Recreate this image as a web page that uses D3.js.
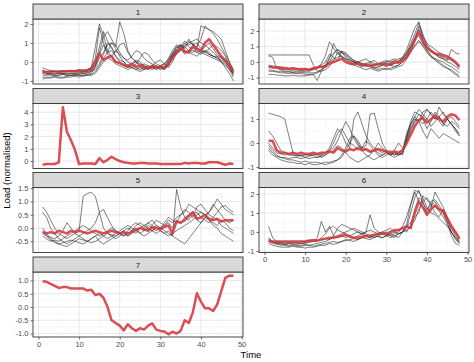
<!DOCTYPE html>
<html><head><meta charset="utf-8">
<script src="https://cdn.jsdelivr.net/npm/d3@7"></script>
<style>body{margin:0;background:#fff}svg{display:block;font-family:"Liberation Sans",Arial,sans-serif}</style>
</head><body><svg id="c" width="474" height="362"></svg>
<script>
const time = d3.range(1, 49);
const panelIds = ["1","2","3","4","5","6","7"];

// Cluster 1
const c1Red = [-0.5,-0.55,-0.5,-0.5,-0.5,-0.5,-0.5,-0.48,-0.5,-0.45,-0.45,-0.45,-0.4,0.0,0.45,0.1,0.25,0.3,0.0,-0.05,-0.15,-0.2,-0.1,-0.25,-0.2,-0.3,-0.35,-0.2,-0.3,-0.25,-0.3,-0.1,0.2,0.5,0.75,0.55,0.5,0.8,0.7,0.6,1.0,1.2,0.9,0.6,0.3,0.1,-0.2,-0.5];
const c1Members = [
[-0.4,-0.6,-0.6,-0.6,-0.6,-0.6,-0.6,-0.6,-0.6,-0.6,-0.55,-0.5,-0.3,0.8,2.0,1.4,0.6,0.3,0.0,-0.1,-0.2,-0.3,-0.2,-0.3,-0.4,-0.3,-0.4,-0.3,-0.4,-0.3,-0.2,0.0,0.4,0.6,0.7,0.5,0.6,0.8,0.5,0.6,0.8,1.0,0.7,0.4,0.2,0.0,-0.3,-0.6],
[-0.8,-0.8,-0.8,-0.75,-0.8,-0.8,-0.75,-0.7,-0.7,-0.7,-0.7,-0.65,-0.6,-0.2,0.5,1.3,1.6,1.2,0.8,2.1,1.5,0.6,0.2,0.0,-0.2,-0.3,-0.2,-0.3,-0.3,-0.2,-0.3,0.1,0.5,0.8,0.9,0.7,1.1,0.9,0.8,1.2,1.9,1.7,1.5,1.2,0.8,0.4,0.0,-0.4],
[-0.6,-0.5,-0.5,-0.5,-0.55,-0.5,-0.5,-0.5,-0.45,-0.5,-0.5,-0.4,-0.3,0.2,1.8,1.0,0.5,1.0,0.9,0.5,0.2,0.0,-0.1,0.0,-0.2,-0.1,-0.2,-0.3,-0.2,-0.3,-0.4,-0.2,0.3,0.7,0.9,0.8,0.6,0.9,1.0,0.7,0.5,0.4,0.3,0.2,0.1,0.0,-0.3,-0.7],
[-0.7,-0.7,-0.65,-0.7,-0.7,-0.65,-0.7,-0.7,-0.7,-0.65,-0.6,-0.6,-0.5,-0.3,0.2,0.5,1.0,0.8,0.3,0.1,0.0,-0.2,-0.3,-0.1,0.2,0.5,0.4,0.1,-0.1,-0.2,-0.1,0.1,0.4,0.8,0.7,1.0,0.8,0.6,0.5,0.4,0.6,0.5,0.3,0.2,0.0,-0.1,-0.4,-0.8],
[-0.3,-0.4,-0.45,-0.5,-0.5,-0.45,-0.5,-0.5,-0.5,-0.45,-0.5,-0.5,-0.4,-0.2,0.4,0.9,0.4,0.3,0.6,0.4,0.2,0.1,0.3,0.6,0.5,0.2,0.0,-0.1,-0.2,-0.3,-0.3,-0.1,0.2,0.4,0.6,0.9,1.2,0.9,0.7,0.6,0.5,0.7,0.9,0.8,0.6,0.3,-0.2,-0.6],
[-0.5,-0.6,-0.6,-0.65,-0.6,-0.6,-0.65,-0.6,-0.6,-0.55,-0.6,-0.55,-0.5,-0.4,-0.1,0.4,0.9,1.0,0.7,0.3,0.0,-0.2,-0.3,-0.4,-0.3,-0.4,-0.3,-0.2,0.0,0.1,-0.1,-0.3,0.0,0.5,0.7,0.4,0.6,0.5,0.7,1.9,1.8,1.7,1.6,1.4,1.2,0.6,0.0,-0.5],
[-0.9,-0.85,-0.85,-0.8,-0.85,-0.85,-0.8,-0.8,-0.75,-0.8,-0.75,-0.7,-0.7,-0.6,-0.3,0.0,0.2,0.1,-0.1,-0.2,-0.3,-0.4,-0.3,-0.4,-0.5,-0.4,-0.3,-0.4,-0.3,-0.4,-0.3,-0.2,0.3,0.6,0.9,0.6,0.5,0.4,0.3,0.5,0.4,0.3,0.2,0.1,0.0,-0.3,-0.6,-1.0],
[-0.45,-0.5,-0.5,-0.5,-0.5,-0.5,-0.45,-0.45,-0.45,-0.4,-0.45,-0.4,-0.3,0.0,0.8,1.6,1.1,0.7,0.5,0.9,1.0,0.5,0.2,0.0,-0.1,-0.2,-0.3,-0.2,-0.3,-0.2,-0.1,0.2,0.6,0.9,0.8,1.1,0.9,1.0,0.6,0.5,0.6,0.4,0.3,0.3,0.0,-0.2,-0.4,-0.6],
[-0.6,-0.65,-0.7,-0.7,-0.7,-0.65,-0.7,-0.7,-0.65,-0.7,-0.7,-0.7,-0.65,-0.5,-0.2,0.2,0.5,0.6,0.3,0.0,-0.2,-0.3,-0.1,0.1,0.0,-0.2,-0.3,-0.2,-0.3,-0.3,-0.4,-0.1,0.3,0.5,0.6,0.8,1.0,1.1,1.2,1.0,0.9,0.7,0.5,0.3,0.2,0.1,-0.2,-0.5]
];

// Cluster 2
const c2Red = [-0.3,-0.35,-0.35,-0.4,-0.4,-0.45,-0.4,-0.45,-0.5,-0.45,-0.5,-0.4,-0.35,-0.3,-0.3,-0.1,0.0,0.1,0.2,0.0,-0.1,-0.15,-0.1,-0.2,-0.15,-0.25,-0.2,-0.15,-0.1,-0.2,-0.1,0.0,-0.05,0.1,0.3,0.8,1.4,1.95,1.3,0.9,0.7,0.55,0.5,0.4,0.35,0.2,0.0,-0.3];
const c2Members = [
[0.45,0.45,0.45,0.45,0.45,0.45,0.45,0.45,0.45,0.45,0.45,-0.2,-0.6,-0.5,-0.3,0.0,0.5,0.8,0.6,0.3,0.1,0.0,-0.1,-0.2,-0.1,0.0,0.1,-0.1,-0.2,0.0,0.1,0.2,0.0,0.3,0.8,1.5,2.2,2.6,1.6,1.0,0.7,0.5,0.3,0.2,0.0,-0.1,-0.3,-0.5],
[0.4,0.3,-0.4,-0.5,-0.6,-0.6,-0.65,-0.6,-0.65,-0.6,-0.6,-0.5,-0.4,-0.1,0.4,1.3,0.9,0.5,0.7,0.4,0.2,0.0,-0.1,-0.2,-0.3,-0.2,-0.3,-0.4,-0.2,-0.1,-0.2,-0.3,-0.2,0.0,0.4,1.0,1.6,2.1,1.4,0.8,0.4,0.2,0.1,0.0,-0.2,-0.3,-0.5,-0.7],
[-0.6,-0.6,-0.65,-0.7,-0.7,-0.75,-0.7,-0.75,-0.75,-0.8,-0.8,-0.8,-1.2,-0.6,-0.3,0.2,1.2,0.7,0.3,0.2,0.1,0.0,-0.2,-0.3,-0.2,-0.3,-0.4,-0.3,-0.2,-0.3,-0.2,-0.1,0.0,0.2,0.6,1.2,1.8,2.5,1.8,1.1,0.8,0.5,0.3,0.2,0.1,0.8,0.6,0.5],
[-0.8,-0.8,-0.85,-0.85,-0.9,-0.9,-0.85,-0.9,-0.9,-0.9,-0.85,-0.8,-0.7,-0.5,-0.2,0.3,0.6,0.8,0.6,0.5,0.3,0.1,0.0,-0.1,-0.2,-0.3,-0.4,-0.5,-0.4,-0.5,-0.4,-0.3,-0.2,0.0,0.3,0.7,1.1,1.4,1.0,0.6,0.3,0.2,0.0,-0.2,-0.4,-0.5,-0.7,-0.9],
[-0.3,-0.35,-0.4,-0.45,-0.5,-0.5,-0.55,-0.5,-0.55,-0.5,-0.5,-0.45,-0.3,-0.2,0.0,0.5,0.3,0.1,0.7,0.6,0.3,0.1,0.0,0.1,0.2,0.0,-0.1,-0.2,-0.1,0.0,-0.2,-0.1,0.1,0.2,0.5,0.9,1.4,2.3,1.6,1.2,1.0,0.8,0.6,0.5,0.4,0.2,0.0,-0.2],
[-0.5,-0.55,-0.6,-0.6,-0.65,-0.65,-0.7,-0.7,-0.65,-0.7,-0.7,-0.7,-0.65,-0.6,-0.5,-0.3,0.1,0.6,0.3,0.1,-0.1,-0.2,-0.3,-0.4,-0.5,-0.4,-0.5,-0.6,-0.5,-0.4,-0.5,-0.4,-0.3,-0.2,0.2,0.6,1.0,1.3,1.1,0.7,0.4,0.1,-0.1,-0.3,-0.4,-0.6,-0.8,-1.0],
[-0.2,-0.25,-0.3,-0.3,-0.35,-0.4,-0.4,-0.45,-0.4,-0.45,-0.5,-0.45,-0.4,-0.3,-0.2,0.0,0.2,0.3,0.4,0.2,0.0,-0.1,0.0,-0.1,-0.2,-0.1,-0.2,-0.1,0.0,0.1,0.0,0.1,0.2,0.3,0.6,1.0,1.5,1.7,1.2,0.9,0.7,0.5,0.4,0.3,0.2,0.1,-0.1,-0.4]
];

// Cluster 3 (single member)
const c3Red = [-0.3,-0.25,-0.25,-0.25,-0.1,4.4,2.4,1.7,0.9,-0.25,-0.2,-0.2,-0.2,-0.25,0.25,-0.1,0.1,0.35,0.15,0.0,-0.1,-0.15,-0.2,-0.2,-0.15,-0.15,-0.2,-0.2,-0.2,-0.25,-0.25,-0.25,-0.25,-0.25,-0.25,-0.15,-0.2,-0.15,-0.15,-0.2,-0.2,-0.1,-0.1,-0.1,-0.2,-0.3,-0.2,-0.25];
const c3Members = [];

// Cluster 4
const c4Red = [0.1,0.1,-0.3,-0.4,-0.4,-0.45,-0.4,-0.45,-0.4,-0.45,-0.45,-0.4,-0.45,-0.4,-0.4,-0.35,-0.4,-0.2,-0.3,-0.35,-0.25,-0.3,-0.2,-0.3,-0.25,-0.35,-0.3,-0.25,-0.3,-0.35,-0.4,-0.35,-0.4,-0.3,0.0,0.35,0.7,0.95,1.05,0.85,1.0,1.15,1.0,0.9,1.1,1.2,1.15,0.95];
const c4Members = [
[1.25,1.2,1.15,1.1,1.0,0.3,-0.4,-0.5,-0.5,-0.45,-0.5,-0.5,-0.45,-0.5,-0.4,-0.3,-0.2,0.1,0.5,0.9,0.6,0.2,-0.1,-0.2,-0.3,-0.4,-0.3,-0.4,-0.5,-0.4,-0.5,-0.4,-0.5,-0.4,0.1,0.6,0.9,1.2,1.0,0.6,0.9,1.3,1.1,0.8,1.0,1.1,0.9,0.7],
[0.5,0.3,0.0,-0.3,-0.4,-0.5,-0.5,-0.55,-0.5,-0.6,-0.55,-0.5,-0.6,-0.5,-0.4,-0.2,0.2,0.6,0.4,0.0,-0.2,1.0,1.3,0.8,0.3,0.0,-0.2,-0.3,-0.4,-0.3,-0.4,-0.5,-0.4,-0.5,0.2,0.7,1.0,0.9,1.3,1.4,1.2,1.0,1.5,1.2,1.0,0.8,0.6,0.4],
[-0.1,-0.3,-0.5,-0.6,-0.65,-0.7,-0.7,-0.75,-0.8,-0.75,-0.8,-0.8,-0.8,-0.85,-0.8,-0.8,-0.75,-0.7,-0.6,-0.3,0.0,0.3,0.1,-0.2,-0.1,1.2,1.25,0.6,0.0,-0.3,-0.5,-0.4,-0.5,-0.4,0.3,0.9,1.3,1.2,1.1,1.4,1.2,1.0,1.1,1.3,1.0,0.8,0.6,0.3],
[-0.3,-0.5,-0.6,-0.7,-0.75,-0.8,-0.8,-0.85,-0.85,-0.9,-0.85,-0.9,-0.9,-0.85,-0.9,-0.85,-0.8,-0.7,-0.5,-0.2,0.2,0.3,0.0,-0.3,-0.5,-0.6,-0.7,-0.6,-0.5,-0.4,-0.3,-0.5,-0.4,-0.3,0.4,0.8,1.1,0.9,0.5,0.2,0.6,0.4,0.2,0.4,0.3,0.2,0.1,0.0],
[0.0,-0.2,-0.4,-0.45,-0.5,-0.45,-0.5,-0.5,-0.55,-0.5,-0.5,-0.45,-0.5,-0.6,-0.5,-0.4,-0.3,-0.1,-0.2,-0.4,-0.6,-0.7,-0.8,-0.7,-0.6,-0.5,-0.3,0.0,-0.2,-0.4,-0.5,-0.6,-0.5,-0.4,0.2,0.8,1.1,1.4,1.2,1.0,1.3,1.1,0.9,0.7,1.0,0.8,0.5,0.3],
[-0.2,-0.4,-0.55,-0.6,-0.6,-0.65,-0.6,-0.6,-0.65,-0.6,-0.65,-0.6,-0.6,-0.55,-0.5,-0.3,0.0,0.4,0.6,0.3,0.0,-0.1,-0.3,-0.2,0.1,-0.1,-0.3,-0.5,-0.6,-0.5,-0.4,-0.3,0.0,-0.2,0.0,0.5,0.9,1.0,0.8,1.0,0.7,0.9,1.1,0.8,0.7,0.9,0.8,0.6]
];

// Cluster 5
const c5Red = [-0.15,-0.2,-0.15,-0.2,-0.1,-0.15,-0.2,-0.1,-0.15,-0.1,-0.15,-0.2,-0.15,-0.1,-0.15,-0.2,-0.15,-0.1,-0.15,-0.2,-0.15,-0.2,-0.15,-0.05,0.0,-0.05,-0.1,0.05,0.0,-0.05,0.05,0.1,-0.2,0.25,0.2,0.3,0.45,0.6,0.35,0.4,0.5,0.35,0.3,0.35,0.25,0.3,0.3,0.3];
const c5Members = [
[0.8,0.6,0.3,0.0,-0.2,-0.3,-0.4,-0.3,-0.2,-0.1,1.2,1.3,1.35,1.2,0.6,0.0,-0.2,-0.3,-0.4,-0.3,-0.2,-0.3,-0.1,0.0,-0.2,-0.1,0.0,-0.1,0.1,0.0,-0.1,-0.2,-0.3,1.45,0.8,0.4,0.3,0.5,0.6,0.4,0.3,0.2,0.4,0.3,0.1,0.0,-0.1,-0.2],
[0.6,0.4,0.0,-0.2,-0.4,-0.5,-0.6,-0.5,-0.4,-0.3,-0.2,-0.1,0.0,0.2,0.6,0.7,0.4,0.1,-0.1,-0.2,-0.3,-0.2,-0.1,-0.2,0.0,0.1,0.2,0.1,0.3,0.2,0.1,0.3,0.2,0.4,0.5,0.6,0.9,0.8,0.7,0.6,0.5,0.6,0.8,1.1,0.9,0.7,0.6,0.5],
[0.0,-0.2,-0.4,-0.5,-0.6,-0.65,-0.7,-0.6,-0.5,-0.4,-0.45,-0.5,-0.4,-0.3,-0.2,-0.3,-0.4,-0.3,-0.2,-0.1,0.0,0.1,0.0,-0.1,-0.2,-0.3,-0.2,-0.1,0.0,-0.1,-0.2,-0.1,-0.3,-0.4,-0.5,-0.6,-0.4,-0.2,0.0,0.2,0.4,0.3,0.2,0.1,0.3,0.2,0.0,-0.1],
[-0.2,-0.3,-0.35,-0.4,-0.3,-0.1,0.2,0.0,-0.2,-0.3,-0.4,-0.5,-0.4,-0.3,-0.5,-0.6,-0.5,-0.4,-0.3,-0.2,-0.3,-0.1,0.1,0.2,0.1,0.0,0.2,0.3,0.1,0.0,0.2,0.4,0.3,0.2,0.5,0.7,0.6,0.4,0.8,0.9,0.7,0.5,0.4,0.6,0.8,0.85,0.7,0.6],
[-0.3,-0.4,-0.5,-0.45,-0.5,-0.4,-0.3,-0.2,-0.1,0.0,0.1,0.0,-0.1,-0.2,-0.3,-0.2,-0.1,0.0,-0.1,-0.2,-0.1,-0.3,-0.2,-0.1,0.0,-0.1,0.1,0.0,-0.1,0.0,0.1,0.2,0.0,0.3,0.2,0.4,0.5,0.6,0.3,0.2,0.4,0.6,0.9,0.7,0.5,0.3,0.2,0.3],
[-0.1,-0.3,-0.45,-0.55,-0.6,-0.55,-0.5,-0.45,-0.5,-0.55,-0.6,-0.5,-0.55,-0.5,-0.4,-0.3,-0.2,-0.25,-0.3,-0.2,-0.1,0.0,-0.1,0.1,0.2,0.1,0.0,-0.1,-0.2,-0.1,-0.2,-0.3,-0.2,-0.1,0.0,0.1,0.2,0.3,0.5,0.6,0.5,0.3,0.1,0.0,-0.2,-0.3,-0.4,-0.5]
];

// Cluster 6
const c6Red = [-0.45,-0.5,-0.5,-0.5,-0.5,-0.5,-0.5,-0.5,-0.5,-0.5,-0.45,-0.45,-0.45,-0.4,-0.35,-0.3,-0.3,-0.25,-0.2,-0.15,-0.25,-0.3,-0.3,-0.25,-0.2,-0.2,-0.15,-0.1,-0.1,-0.1,0.0,0.1,0.1,0.2,0.3,0.2,1.0,1.6,1.3,0.9,1.2,1.4,1.2,1.1,0.7,0.3,0.0,-0.35];
const c6Members = [
[0.3,-0.3,-0.5,-0.55,-0.6,-0.6,-0.55,-0.6,-0.6,-0.55,-0.5,-0.5,-0.3,0.55,0.0,0.3,-0.2,-0.3,-0.2,-0.3,-0.2,-0.1,0.0,-0.1,-0.2,-0.3,-0.2,-0.1,0.0,-0.1,-0.2,-0.1,0.0,0.3,0.8,1.5,2.2,2.1,1.8,1.3,1.0,0.9,0.7,0.5,0.3,0.0,-0.3,-0.5],
[-0.3,-0.5,-0.6,-0.65,-0.65,-0.7,-0.65,-0.7,-0.7,-0.65,-0.7,-0.65,-0.6,-0.55,-0.5,-0.4,-0.2,0.2,0.4,0.3,0.2,0.1,0.0,-0.1,0.0,0.9,0.2,0.0,-0.1,-0.2,-0.1,0.0,0.1,0.2,0.0,0.4,1.2,1.8,1.6,1.0,1.3,2.1,1.7,1.3,0.8,0.4,0.0,-0.4],
[-0.5,-0.55,-0.6,-0.6,-0.65,-0.6,-0.6,-0.65,-0.6,-0.6,-0.55,-0.5,-0.5,-0.3,-0.1,0.2,0.3,0.1,0.0,-0.1,-0.2,-0.3,-0.2,-0.1,0.0,0.1,0.0,-0.1,0.0,0.1,0.2,0.0,-0.1,0.0,0.2,1.0,1.8,2.2,1.5,1.2,1.4,1.0,0.8,1.2,0.7,0.0,-0.4,-0.6],
[-0.6,-0.7,-0.75,-0.8,-0.8,-0.8,-0.75,-0.8,-0.8,-0.85,-0.8,-0.8,-0.75,-0.7,-0.7,-0.6,-0.65,-0.6,-0.5,-0.4,-0.45,-0.5,-0.4,-0.3,-0.35,-0.4,-0.3,-0.2,-0.3,-0.2,-0.3,-0.2,-0.1,0.0,0.1,0.3,0.6,1.2,1.6,1.8,1.5,1.3,1.1,0.8,0.4,0.0,-0.3,-0.6],
[-0.4,-0.5,-0.55,-0.55,-0.5,-0.55,-0.5,-0.55,-0.5,-0.5,-0.45,-0.4,-0.45,-0.4,-0.35,-0.4,-0.3,-0.2,-0.1,0.0,0.1,0.2,0.1,0.0,-0.1,-0.2,-0.3,-0.2,-0.1,0.0,-0.2,-0.3,-0.1,0.0,0.3,0.5,0.8,1.0,1.9,1.7,1.4,1.6,1.2,1.0,0.5,-0.2,-0.6,-0.7],
[-0.5,-0.6,-0.65,-0.7,-0.7,-0.75,-0.7,-0.75,-0.75,-0.7,-0.7,-0.75,-0.7,-0.65,-0.6,-0.55,-0.5,-0.55,-0.5,-0.45,-0.4,-0.35,-0.4,-0.3,-0.25,-0.3,-0.2,-0.25,-0.3,-0.2,-0.1,-0.2,-0.3,0.0,0.4,1.4,2.1,1.6,1.3,1.1,1.6,1.7,1.4,1.0,0.6,0.2,-0.2,-0.5]
];

// Cluster 7 (single member)
const c7Red = [0.97,0.95,0.87,0.8,0.72,0.75,0.75,0.7,0.7,0.7,0.7,0.62,0.65,0.45,0.5,0.35,0.0,-0.5,-0.6,-0.7,-0.88,-0.65,-0.8,-0.9,-0.8,-0.85,-0.7,-0.62,-0.85,-0.9,-0.92,-1.03,-0.93,-1.0,-0.9,-0.5,-0.6,-0.2,0.52,0.2,-0.05,-0.05,-0.15,0.1,0.6,1.1,1.18,1.18];
const c7Members = [];

const redSeries = [c1Red,c2Red,c3Red,c4Red,c5Red,c6Red,c7Red];
const memberSeries = [c1Members,c2Members,c3Members,c4Members,c5Members,c6Members,c7Members];
const yTickValues = [[-1,0,1,2],[-1,0,1,2],[0,1,2,3,4],[-1,0,1],[-0.5,0,0.5,1,1.5],[-1,0,1,2],[-1,-0.5,0,0.5,1]];
const yDomains = [[-1.16,2.26],[-1.42,2.77],[-0.61,4.71],[-1.06,1.65],[-0.92,1.53],[-1.08,2.34],[-1.13,1.32]];
const yDecimals = [0,0,0,0,1,0,1];
const xTicks = [0,10,20,30,40,50];
const xTitle = "Time", yTitle = "Load (normalised)";

const svg = d3.select("#c");
const colX = [33, 259], panelW = 210;
const rowY = [4, 88.5, 172.5, 257], stripH = 15, panelH = 65;
const xDomain = [-1.35, 50.35];
const fmt = (dec) => (v) => v.toFixed(dec);
const line = (x, y) => d3.line().x((d,i) => x(time[i])).y(d => y(d));

panelIds.forEach((id, k) => {
  const col = k % 2, row = Math.floor(k / 2);
  const left = colX[col], top = rowY[row] + stripH;
  const g = svg.append("g").attr("transform", `translate(${left},${top})`);
  const x = d3.scaleLinear().domain(xDomain).range([0, panelW]);
  const y = d3.scaleLinear().domain(yDomains[k]).range([panelH, 0]);
  const xMinor = [5,15,25,35,45], yt = yTickValues[k];
  const step = yt[1]-yt[0];
  const yMinor = d3.range(yt[0]-step/2, yDomains[k][1], step).filter(v => v > yDomains[k][0] && v < yDomains[k][1]);
  g.append("g").selectAll("line").data(xMinor).join("line")
    .attr("x1", d=>x(d)).attr("x2", d=>x(d)).attr("y1",0).attr("y2",panelH)
    .attr("stroke","#f2f2f2").attr("stroke-width",0.6);
  g.append("g").selectAll("line").data(yMinor).join("line")
    .attr("y1", d=>y(d)).attr("y2", d=>y(d)).attr("x1",0).attr("x2",panelW)
    .attr("stroke","#f2f2f2").attr("stroke-width",0.6);
  g.append("g").selectAll("line").data(xTicks).join("line")
    .attr("x1", d=>x(d)).attr("x2", d=>x(d)).attr("y1",0).attr("y2",panelH)
    .attr("stroke","#e4e4e4").attr("stroke-width",0.9);
  g.append("g").selectAll("line").data(yt).join("line")
    .attr("y1", d=>y(d)).attr("y2", d=>y(d)).attr("x1",0).attr("x2",panelW)
    .attr("stroke","#e4e4e4").attr("stroke-width",0.9);
  const clip = "clip"+id;
  g.append("clipPath").attr("id",clip).append("rect").attr("width",panelW).attr("height",panelH);
  const lg = g.append("g").attr("clip-path",`url(#${clip})`);
  lg.selectAll("path.m").data(memberSeries[k]).join("path").attr("class","m")
    .attr("d", line(x,y)).attr("fill","none").attr("stroke","#1a1a1a").attr("stroke-opacity",0.8).attr("stroke-width",0.7);
  lg.append("path").datum(redSeries[k]).attr("d", line(x,y))
    .attr("fill","none").attr("stroke","#d6363c").attr("stroke-opacity",0.88).attr("stroke-width",2.5).attr("stroke-linejoin","round");
  g.append("rect").attr("width",panelW).attr("height",panelH).attr("fill","none").attr("stroke","#333").attr("stroke-width",0.9);
  svg.append("rect").attr("x",left).attr("y",rowY[row]).attr("width",panelW).attr("height",stripH)
    .attr("fill","#d9d9d9").attr("stroke","#333").attr("stroke-width",0.9);
  svg.append("text").attr("x",left+panelW/2).attr("y",rowY[row]+stripH/2+3).attr("text-anchor","middle")
    .attr("font-size",8).attr("fill","#1a1a1a").text(id);
  const ya = d3.axisLeft(y).tickValues(yt).tickSize(2.5).tickPadding(2).tickFormat(fmt(yDecimals[k]));
  const yg = g.append("g").call(ya);
  yg.select(".domain").remove();
  yg.selectAll("line").attr("stroke","#333").attr("stroke-width",0.7);
  yg.selectAll("text").attr("font-size",7.5).attr("fill","#4d4d4d").attr("font-family","Liberation Sans, Arial, sans-serif");
  const isBottom = (col===0 && k===6) || (col===1 && k===5);
  if (isBottom) {
    const xa = d3.axisBottom(x).tickValues(xTicks).tickSize(2.5).tickPadding(2).tickFormat(d3.format("d"));
    const xg = g.append("g").attr("transform",`translate(0,${panelH})`).call(xa);
    xg.select(".domain").remove();
    xg.selectAll("line").attr("stroke","#333").attr("stroke-width",0.7);
    xg.selectAll("text").attr("font-size",7.5).attr("fill","#4d4d4d").attr("font-family","Liberation Sans, Arial, sans-serif");
  }
});

svg.append("text").attr("x", (colX[0] + colX[1] + panelW)/2).attr("y", 358).attr("text-anchor","middle")
  .attr("font-size",9.5).attr("fill","#000").text(xTitle);
svg.append("text").attr("transform",`translate(10,${(rowY[0] + rowY[3] + stripH + panelH)/2}) rotate(-90)`)
  .attr("text-anchor","middle").attr("font-size",9.5).attr("fill","#000").text(yTitle);
</script>
</body></html>
